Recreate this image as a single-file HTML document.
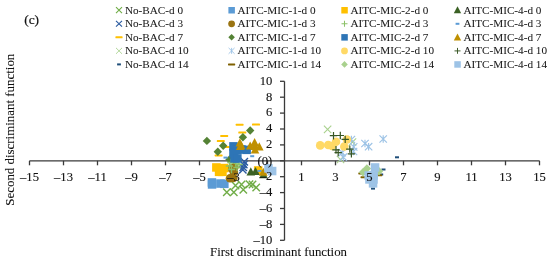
<!DOCTYPE html>
<html><head><meta charset="utf-8"><style>
html,body{margin:0;padding:0;background:#fff;}
svg{display:block;}
.ax{stroke:#3a3a3a;stroke-width:1.3;fill:none;}
.tl{font-family:'Liberation Serif', 'DejaVu Serif', serif;font-size:12.6px;fill:#111;stroke:#111;stroke-width:0.12px;}
.ttl{font-family:'Liberation Serif', 'DejaVu Serif', serif;font-size:13px;fill:#111;stroke:#111;stroke-width:0.08px;}
.cap{font-family:'Liberation Serif', 'DejaVu Serif', serif;font-size:13.4px;fill:#111;stroke:#111;stroke-width:0.2px;}
.lg{font-family:'Liberation Serif', 'DejaVu Serif', serif;font-size:11.2px;fill:#1a1a1a;stroke:#1a1a1a;stroke-width:0.05px;}
</style></head><body>
<svg width="550" height="261" viewBox="0 0 550 261">
<line x1="29.5" y1="160.8" x2="539.5" y2="160.8" class="ax"/>
<line x1="284.5" y1="81.30000000000001" x2="284.5" y2="240.3" class="ax"/>
<line x1="29.5" y1="160.8" x2="29.5" y2="165.3" class="ax"/>
<line x1="63.5" y1="160.8" x2="63.5" y2="165.3" class="ax"/>
<line x1="97.5" y1="160.8" x2="97.5" y2="165.3" class="ax"/>
<line x1="131.5" y1="160.8" x2="131.5" y2="165.3" class="ax"/>
<line x1="165.5" y1="160.8" x2="165.5" y2="165.3" class="ax"/>
<line x1="199.5" y1="160.8" x2="199.5" y2="165.3" class="ax"/>
<line x1="233.5" y1="160.8" x2="233.5" y2="165.3" class="ax"/>
<line x1="267.5" y1="160.8" x2="267.5" y2="165.3" class="ax"/>
<line x1="301.5" y1="160.8" x2="301.5" y2="165.3" class="ax"/>
<line x1="335.5" y1="160.8" x2="335.5" y2="165.3" class="ax"/>
<line x1="369.5" y1="160.8" x2="369.5" y2="165.3" class="ax"/>
<line x1="403.5" y1="160.8" x2="403.5" y2="165.3" class="ax"/>
<line x1="437.5" y1="160.8" x2="437.5" y2="165.3" class="ax"/>
<line x1="471.5" y1="160.8" x2="471.5" y2="165.3" class="ax"/>
<line x1="505.5" y1="160.8" x2="505.5" y2="165.3" class="ax"/>
<line x1="539.5" y1="160.8" x2="539.5" y2="165.3" class="ax"/>
<line x1="280.0" y1="240.3" x2="284.5" y2="240.3" class="ax"/>
<line x1="280.0" y1="224.4" x2="284.5" y2="224.4" class="ax"/>
<line x1="280.0" y1="208.5" x2="284.5" y2="208.5" class="ax"/>
<line x1="280.0" y1="192.60000000000002" x2="284.5" y2="192.60000000000002" class="ax"/>
<line x1="280.0" y1="176.70000000000002" x2="284.5" y2="176.70000000000002" class="ax"/>
<line x1="280.0" y1="160.8" x2="284.5" y2="160.8" class="ax"/>
<line x1="280.0" y1="144.9" x2="284.5" y2="144.9" class="ax"/>
<line x1="280.0" y1="129.0" x2="284.5" y2="129.0" class="ax"/>
<line x1="280.0" y1="113.10000000000001" x2="284.5" y2="113.10000000000001" class="ax"/>
<line x1="280.0" y1="97.20000000000002" x2="284.5" y2="97.20000000000002" class="ax"/>
<line x1="280.0" y1="81.30000000000001" x2="284.5" y2="81.30000000000001" class="ax"/>
<path d="M223.1 188.5L230.5 195.9M223.1 195.9L230.5 188.5" stroke="#70AD47" stroke-width="1.40" fill="none"/>
<path d="M230.1 188.5L237.5 195.9M230.1 195.9L237.5 188.5" stroke="#70AD47" stroke-width="1.40" fill="none"/>
<path d="M231.8 181.8L239.2 189.2M231.8 189.2L239.2 181.8" stroke="#70AD47" stroke-width="1.40" fill="none"/>
<path d="M237.8 180.8L245.2 188.2M237.8 188.2L245.2 180.8" stroke="#70AD47" stroke-width="1.40" fill="none"/>
<path d="M239.6 186.1L247.0 193.5M239.6 193.5L247.0 186.1" stroke="#70AD47" stroke-width="1.40" fill="none"/>
<path d="M245.8 180.5L253.2 187.9M245.8 187.9L253.2 180.5" stroke="#70AD47" stroke-width="1.40" fill="none"/>
<path d="M248.8 180.8L256.2 188.2M248.8 188.2L256.2 180.8" stroke="#70AD47" stroke-width="1.40" fill="none"/>
<path d="M252.5 183.8L259.9 191.2M252.5 191.2L259.9 183.8" stroke="#70AD47" stroke-width="1.40" fill="none"/>
<path d="M240.6 158.1L248.0 165.5M240.6 165.5L248.0 158.1" stroke="#2B5BA0" stroke-width="1.40" fill="none"/>
<path d="M240.1 160.9L247.5 168.3M240.1 168.3L247.5 160.9" stroke="#2B5BA0" stroke-width="1.40" fill="none"/>
<path d="M239.5 163.7L246.9 171.1M239.5 171.1L246.9 163.7" stroke="#2B5BA0" stroke-width="1.40" fill="none"/>
<path d="M239.1 166.1L246.5 173.5M239.1 173.5L246.5 166.1" stroke="#2B5BA0" stroke-width="1.40" fill="none"/>
<rect x="235.6" y="123.7" width="8.0" height="2" rx="0.6" fill="#FFC000"/>
<rect x="252.0" y="123.6" width="8.0" height="2" rx="0.6" fill="#FFC000"/>
<rect x="238.3" y="131.5" width="8.0" height="2" rx="0.6" fill="#FFC000"/>
<rect x="220.2" y="134.9" width="8.0" height="2" rx="0.6" fill="#FFC000"/>
<rect x="216.8" y="140.1" width="8.0" height="2" rx="0.6" fill="#FFC000"/>
<rect x="214.6" y="154.4" width="8.0" height="2" rx="0.6" fill="#FFC000"/>
<rect x="222.5" y="146.0" width="8.0" height="2" rx="0.6" fill="#FFC000"/>
<path d="M323.9 125.7L331.3 133.1M323.9 133.1L331.3 125.7" stroke="#A9D18E" stroke-width="1.10" fill="none"/>
<path d="M348.8 138.3L356.2 145.7M348.8 145.7L356.2 138.3" stroke="#A9D18E" stroke-width="1.10" fill="none"/>
<path d="M336.8 155.8L344.2 163.2M336.8 163.2L344.2 155.8" stroke="#A9D18E" stroke-width="1.10" fill="none"/>
<rect x="395.0" y="156.3" width="4.0" height="2" fill="#1F4E79"/>
<rect x="381.5" y="168.5" width="4.0" height="2" fill="#1F4E79"/>
<rect x="379.2" y="173.5" width="4.0" height="2" fill="#1F4E79"/>
<rect x="371.0" y="187.6" width="4.0" height="2" fill="#1F4E79"/>
<rect x="207.7" y="178.2" width="8.5" height="8.5" fill="#5B9BD5"/>
<rect x="207.8" y="180.2" width="8.5" height="8.5" fill="#5B9BD5"/>
<rect x="216.2" y="179.3" width="8.5" height="8.5" fill="#5B9BD5"/>
<rect x="220.1" y="179.6" width="8.5" height="8.5" fill="#5B9BD5"/>
<circle cx="230.0" cy="178.2" r="4.3" fill="#9A7412"/>
<circle cx="233.3" cy="178.0" r="4.3" fill="#9A7412"/>
<circle cx="233.8" cy="172.0" r="4.3" fill="#9A7412"/>
<circle cx="234.2" cy="167.5" r="4.3" fill="#9A7412"/>
<circle cx="231.5" cy="168.5" r="4.3" fill="#9A7412"/>
<path d="M206.9 136.7L211.1 140.9L206.9 145.1L202.7 140.9Z" fill="#548235"/>
<path d="M223.2 141.6L227.4 145.8L223.2 150.0L219.0 145.8Z" fill="#548235"/>
<path d="M217.8 147.5L222.0 151.7L217.8 155.9L213.6 151.7Z" fill="#548235"/>
<path d="M242.9 133.1L247.1 137.3L242.9 141.5L238.7 137.3Z" fill="#548235"/>
<path d="M250.2 126.3L254.4 130.5L250.2 134.7L246.0 130.5Z" fill="#548235"/>
<path d="M229.5 155.3L233.7 159.5L229.5 163.7L225.3 159.5Z" fill="#548235"/>
<path d="M347.7 135.8L355.1 143.2M347.7 143.2L355.1 135.8M351.4 135.8L351.4 143.2" stroke="#9DC3E6" stroke-width="1.15" fill="none"/>
<path d="M361.3 139.8L368.7 147.2M361.3 147.2L368.7 139.8M365.0 139.8L365.0 147.2" stroke="#9DC3E6" stroke-width="1.15" fill="none"/>
<path d="M364.9 143.0L372.3 150.4M364.9 150.4L372.3 143.0M368.6 143.0L368.6 150.4" stroke="#9DC3E6" stroke-width="1.15" fill="none"/>
<path d="M379.5 135.3L386.9 142.7M379.5 142.7L386.9 135.3M383.2 135.3L383.2 142.7" stroke="#9DC3E6" stroke-width="1.15" fill="none"/>
<path d="M338.5 148.9L345.9 156.3M338.5 156.3L345.9 148.9M342.2 148.9L342.2 156.3" stroke="#9DC3E6" stroke-width="1.15" fill="none"/>
<path d="M339.6 153.5L347.0 160.9M339.6 160.9L347.0 153.5M343.3 153.5L343.3 160.9" stroke="#9DC3E6" stroke-width="1.15" fill="none"/>
<path d="M350.0 143.2L357.4 150.6M350.0 150.6L357.4 143.2M353.7 143.2L353.7 150.6" stroke="#9DC3E6" stroke-width="1.15" fill="none"/>
<path d="M349.8 147.8L357.2 155.2M349.8 155.2L357.2 147.8M353.5 147.8L353.5 155.2" stroke="#9DC3E6" stroke-width="1.15" fill="none"/>
<rect x="358.3" y="172.4" width="8.0" height="2" rx="0.6" fill="#7F6000"/>
<rect x="360.5" y="176.2" width="8.0" height="2" rx="0.6" fill="#7F6000"/>
<rect x="374.2" y="174.3" width="8.0" height="2" rx="0.6" fill="#7F6000"/>
<rect x="212.1" y="163.2" width="8.5" height="8.5" fill="#FFC000"/>
<rect x="219.8" y="163.8" width="8.5" height="8.5" fill="#FFC000"/>
<rect x="214.8" y="167.6" width="8.5" height="8.5" fill="#FFC000"/>
<rect x="218.2" y="167.6" width="8.5" height="8.5" fill="#FFC000"/>
<rect x="253.9" y="166.2" width="8.5" height="8.5" fill="#FFC000"/>
<path d="M227.3 162.5L234.7 162.5M231.0 158.8L231.0 166.2" stroke="#8CC168" stroke-width="1.30" fill="none"/>
<path d="M231.8 163.0L239.2 163.0M235.5 159.3L235.5 166.7" stroke="#8CC168" stroke-width="1.30" fill="none"/>
<path d="M235.3 164.5L242.7 164.5M239.0 160.8L239.0 168.2" stroke="#8CC168" stroke-width="1.30" fill="none"/>
<path d="M225.8 166.0L233.2 166.0M229.5 162.3L229.5 169.7" stroke="#8CC168" stroke-width="1.30" fill="none"/>
<path d="M233.3 167.5L240.7 167.5M237.0 163.8L237.0 171.2" stroke="#8CC168" stroke-width="1.30" fill="none"/>
<path d="M227.8 169.5L235.2 169.5M231.5 165.8L231.5 173.2" stroke="#8CC168" stroke-width="1.30" fill="none"/>
<rect x="229.2" y="142.1" width="8.5" height="8.5" fill="#2E75B6"/>
<rect x="229.2" y="148.8" width="8.5" height="8.5" fill="#2E75B6"/>
<rect x="230.2" y="154.2" width="8.5" height="8.5" fill="#2E75B6"/>
<rect x="233.1" y="154.2" width="8.5" height="8.5" fill="#2E75B6"/>
<rect x="237.2" y="145.2" width="8.5" height="8.5" fill="#2E75B6"/>
<rect x="242.4" y="145.6" width="8.5" height="8.5" fill="#2E75B6"/>
<rect x="233.2" y="145.8" width="8.5" height="8.5" fill="#2E75B6"/>
<circle cx="320.2" cy="145.4" r="4.3" fill="#FFD966"/>
<circle cx="328.2" cy="145.0" r="4.3" fill="#FFD966"/>
<circle cx="336.0" cy="141.7" r="4.3" fill="#FFD966"/>
<circle cx="344.3" cy="146.5" r="4.3" fill="#FFD966"/>
<circle cx="346.9" cy="139.5" r="4.3" fill="#FFD966"/>
<circle cx="332.1" cy="146.0" r="4.3" fill="#FFD966"/>
<path d="M366.9 164.3L371.1 168.5L366.9 172.7L362.7 168.5Z" fill="#A9D18E"/>
<path d="M363.0 168.1L367.2 172.3L363.0 176.5L358.8 172.3Z" fill="#A9D18E"/>
<path d="M379.0 167.1L383.2 171.3L379.0 175.5L374.8 171.3Z" fill="#A9D18E"/>
<path d="M250.8 167.3L255.1 175.4L246.5 175.4Z" fill="#3B6125"/>
<path d="M255.5 166.9L259.8 175.0L251.2 175.0Z" fill="#3B6125"/>
<path d="M263.5 170.1L267.8 178.2L259.2 178.2Z" fill="#3B6125"/>
<rect x="223.5" y="156.6" width="4.0" height="2" fill="#5B9BD5"/>
<rect x="250.2" y="155.2" width="4.0" height="2" fill="#5B9BD5"/>
<rect x="257.5" y="169.9" width="4.0" height="2" fill="#5B9BD5"/>
<path d="M239.9 138.3L244.2 146.4L235.6 146.4Z" fill="#BF9000"/>
<path d="M240.3 141.8L244.6 149.9L236.0 149.9Z" fill="#BF9000"/>
<path d="M241.0 141.0L245.3 149.1L236.7 149.1Z" fill="#BF9000"/>
<path d="M254.6 138.1L258.9 146.2L250.3 146.2Z" fill="#BF9000"/>
<path d="M250.2 141.5L254.5 149.6L245.9 149.6Z" fill="#BF9000"/>
<path d="M259.3 142.3L263.6 150.4L255.0 150.4Z" fill="#BF9000"/>
<path d="M255.0 145.3L259.3 153.4L250.7 153.4Z" fill="#BF9000"/>
<path d="M254.8 141.8L259.1 149.9L250.5 149.9Z" fill="#BF9000"/>
<path d="M263.3 167.7L267.6 175.8L259.0 175.8Z" fill="#BF9000"/>
<path d="M329.8 135.7L337.2 135.7M333.5 132.0L333.5 139.4" stroke="#375623" stroke-width="1.20" fill="none"/>
<path d="M336.6 135.5L344.0 135.5M340.3 131.8L340.3 139.2" stroke="#375623" stroke-width="1.20" fill="none"/>
<path d="M341.5 139.4L348.9 139.4M345.2 135.7L345.2 143.1" stroke="#375623" stroke-width="1.20" fill="none"/>
<path d="M332.3 149.8L339.7 149.8M336.0 146.1L336.0 153.5" stroke="#375623" stroke-width="1.20" fill="none"/>
<path d="M334.5 152.6L341.9 152.6M338.2 148.9L338.2 156.3" stroke="#375623" stroke-width="1.20" fill="none"/>
<path d="M346.1 149.1L353.5 149.1M349.8 145.4L349.8 152.8" stroke="#375623" stroke-width="1.20" fill="none"/>
<path d="M347.7 153.8L355.1 153.8M351.4 150.1L351.4 157.5" stroke="#375623" stroke-width="1.20" fill="none"/>
<rect x="264.2" y="164.1" width="8.5" height="8.5" fill="#9DC3E6"/>
<rect x="267.9" y="166.8" width="8.5" height="8.5" fill="#9DC3E6"/>
<rect x="370.8" y="163.2" width="8.5" height="8.5" fill="#9DC3E6"/>
<rect x="364.4" y="171.2" width="8.5" height="8.5" fill="#9DC3E6"/>
<rect x="369.4" y="171.2" width="8.5" height="8.5" fill="#9DC3E6"/>
<rect x="365.2" y="175.2" width="8.5" height="8.5" fill="#9DC3E6"/>
<rect x="369.2" y="175.2" width="8.5" height="8.5" fill="#9DC3E6"/>
<rect x="368.8" y="179.1" width="8.5" height="8.5" fill="#9DC3E6"/>
<text x="29.5" y="181.2" class="tl" text-anchor="middle">–15</text>
<text x="63.5" y="181.2" class="tl" text-anchor="middle">–13</text>
<text x="97.5" y="181.2" class="tl" text-anchor="middle">–11</text>
<text x="131.5" y="181.2" class="tl" text-anchor="middle">–9</text>
<text x="165.5" y="181.2" class="tl" text-anchor="middle">–7</text>
<text x="199.5" y="181.2" class="tl" text-anchor="middle">–5</text>
<text x="233.5" y="181.2" class="tl" text-anchor="middle">–3</text>
<text x="301.5" y="181.2" class="tl" text-anchor="middle">1</text>
<text x="335.5" y="181.2" class="tl" text-anchor="middle">3</text>
<text x="369.5" y="181.2" class="tl" text-anchor="middle">5</text>
<text x="403.5" y="181.2" class="tl" text-anchor="middle">7</text>
<text x="437.5" y="181.2" class="tl" text-anchor="middle">9</text>
<text x="471.5" y="181.2" class="tl" text-anchor="middle">11</text>
<text x="505.5" y="181.2" class="tl" text-anchor="middle">13</text>
<text x="539.5" y="181.2" class="tl" text-anchor="middle">15</text>
<text x="272.3" y="243.6" class="tl" text-anchor="end">–10</text>
<text x="272.3" y="227.7" class="tl" text-anchor="end">–8</text>
<text x="272.3" y="211.8" class="tl" text-anchor="end">–6</text>
<text x="272.3" y="195.9" class="tl" text-anchor="end">–4</text>
<text x="272.3" y="180.0" class="tl" text-anchor="end">–2</text>
<text x="272.3" y="164.8" class="tl" text-anchor="end">(0)</text>
<text x="272.3" y="148.2" class="tl" text-anchor="end">2</text>
<text x="272.3" y="132.3" class="tl" text-anchor="end">4</text>
<text x="272.3" y="116.4" class="tl" text-anchor="end">6</text>
<text x="272.3" y="100.5" class="tl" text-anchor="end">8</text>
<text x="272.3" y="84.6" class="tl" text-anchor="end">10</text>
<path d="M116.0 7.2L122.0 13.2M116.0 13.2L122.0 7.2" stroke="#70AD47" stroke-width="1.12" fill="none"/>
<text x="124.9" y="13.6" class="lg">No-BAC-d 0</text>
<path d="M116.0 20.8L122.0 26.7M116.0 26.7L122.0 20.8" stroke="#2B5BA0" stroke-width="1.12" fill="none"/>
<text x="124.9" y="27.1" class="lg">No-BAC-d 3</text>
<rect x="115.4" y="36.3" width="7.2" height="2" rx="0.6" fill="#FFC000"/>
<text x="124.9" y="40.7" class="lg">No-BAC-d 7</text>
<path d="M116.0 47.9L122.0 53.8M116.0 53.8L122.0 47.9" stroke="#A9D18E" stroke-width="0.88" fill="none"/>
<text x="124.9" y="54.3" class="lg">No-BAC-d 10</text>
<rect x="117.1" y="63.4" width="3.8" height="2" fill="#1F4E79"/>
<text x="124.9" y="67.8" class="lg">No-BAC-d 14</text>
<rect x="228.4" y="7.0" width="6.5" height="6.5" fill="#5B9BD5"/>
<text x="237.5" y="13.6" class="lg">AITC-MIC-1-d 0</text>
<circle cx="231.6" cy="23.8" r="3.4" fill="#9A7412"/>
<text x="237.5" y="27.1" class="lg">AITC-MIC-1-d 3</text>
<path d="M231.6 34.0L234.9 37.3L231.6 40.6L228.3 37.3Z" fill="#548235"/>
<text x="237.5" y="40.7" class="lg">AITC-MIC-1-d 7</text>
<path d="M228.6 47.9L234.6 53.8M228.6 53.8L234.6 47.9M231.6 47.9L231.6 53.8" stroke="#9DC3E6" stroke-width="0.92" fill="none"/>
<text x="237.5" y="54.3" class="lg">AITC-MIC-1-d 10</text>
<rect x="228.0" y="63.4" width="7.2" height="2" rx="0.6" fill="#7F6000"/>
<text x="237.5" y="67.8" class="lg">AITC-MIC-1-d 14</text>
<rect x="341.3" y="7.0" width="6.5" height="6.5" fill="#FFC000"/>
<text x="350.4" y="13.6" class="lg">AITC-MIC-2-d 0</text>
<path d="M341.5 23.8L347.5 23.8M344.5 20.8L344.5 26.7" stroke="#8CC168" stroke-width="1.04" fill="none"/>
<text x="350.4" y="27.1" class="lg">AITC-MIC-2-d 3</text>
<rect x="341.3" y="34.1" width="6.5" height="6.5" fill="#2E75B6"/>
<text x="350.4" y="40.7" class="lg">AITC-MIC-2-d 7</text>
<circle cx="344.5" cy="50.9" r="3.4" fill="#FFD966"/>
<text x="350.4" y="54.3" class="lg">AITC-MIC-2-d 10</text>
<path d="M344.5 61.1L347.8 64.4L344.5 67.7L341.2 64.4Z" fill="#A9D18E"/>
<text x="350.4" y="67.8" class="lg">AITC-MIC-2-d 14</text>
<path d="M457.5 6.3L461.2 13.3L453.8 13.3Z" fill="#3B6125"/>
<text x="463.4" y="13.6" class="lg">AITC-MIC-4-d 0</text>
<rect x="455.6" y="22.8" width="3.8" height="2" fill="#5B9BD5"/>
<text x="463.4" y="27.1" class="lg">AITC-MIC-4-d 3</text>
<path d="M457.5 33.4L461.2 40.4L453.8 40.4Z" fill="#BF9000"/>
<text x="463.4" y="40.7" class="lg">AITC-MIC-4-d 7</text>
<path d="M454.5 50.9L460.5 50.9M457.5 47.9L457.5 53.8" stroke="#375623" stroke-width="0.96" fill="none"/>
<text x="463.4" y="54.3" class="lg">AITC-MIC-4-d 10</text>
<rect x="454.3" y="61.2" width="6.5" height="6.5" fill="#9DC3E6"/>
<text x="463.4" y="67.8" class="lg">AITC-MIC-4-d 14</text>
<text x="24.2" y="23.6" class="cap">(c)</text>
<text x="210" y="255.8" class="ttl" textLength="137" lengthAdjust="spacingAndGlyphs">First discriminant function</text>
<text transform="translate(13.5,205.7) rotate(-90)" x="0" y="0" class="ttl" textLength="152" lengthAdjust="spacingAndGlyphs">Second discriminant function</text>
</svg>
</body></html>
